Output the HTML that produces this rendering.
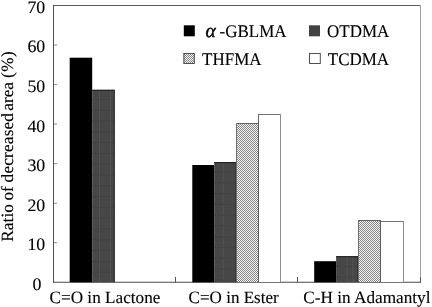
<!DOCTYPE html>
<html>
<head>
<meta charset="utf-8">
<title>Ratio of decreased area</title>
<style>
html,body{margin:0;padding:0;background:#fff;}
body{width:432px;height:307px;overflow:hidden;position:relative;}
svg{position:absolute;left:0;top:0;display:block;}
text{font-family:"Liberation Serif","Times New Roman",serif;fill:#000;stroke:#000;stroke-width:0.12px;text-rendering:geometricPrecision;}
</style>
</head>
<body>
<svg width="432" height="307" viewBox="0 0 432 307">
<defs>
<pattern id="chk" x="0" y="0" width="2" height="2" patternUnits="userSpaceOnUse">
<rect x="0" y="0" width="2" height="2" fill="#f4f4f4"/>
<rect x="0" y="0" width="1" height="1" fill="#888888"/>
<rect x="1" y="1" width="1" height="1" fill="#888888"/>
</pattern>
</defs>
<rect x="0" y="0" width="432" height="307" fill="#fff"/>

<g>
<rect x="53" y="5" width="368" height="1" fill="#5a5a5a" shape-rendering="crispEdges"/>
<rect x="420" y="5" width="1" height="277.26" fill="#a0a0a0"/>
<rect x="53" y="5" width="1" height="277.76" fill="#505050"/>
<rect x="53" y="281.76" width="368" height="1" fill="#4c4c4c"/>
<rect x="54" y="242.22" width="3" height="1" fill="#8a8a8a"/>
<rect x="54" y="202.69" width="3" height="1" fill="#8a8a8a"/>
<rect x="54" y="163.15" width="3" height="1" fill="#8a8a8a"/>
<rect x="54" y="123.61" width="3" height="1" fill="#8a8a8a"/>
<rect x="54" y="84.07" width="3" height="1" fill="#8a8a8a"/>
<rect x="54" y="44.54" width="3" height="1" fill="#8a8a8a"/>
<rect x="175" y="277" width="1" height="5.26" fill="#555"/>
<rect x="297" y="277" width="1" height="5.26" fill="#555"/>
<rect x="420" y="277" width="1" height="5.26" fill="#555"/>
</g>
<rect x="69.70" y="57.70" width="22.50" height="224.56" fill="#000"/>
<rect x="92.20" y="89.80" width="22.60" height="192.46" fill="#474747"/>
<rect x="98.90" y="90.80" width="1" height="191.46" fill="#535353"/>
<rect x="110.10" y="90.80" width="1" height="191.46" fill="#535353"/>
<line x1="92.20" x2="113.80" y1="99.40" y2="99.40" stroke="#3d3d3d" stroke-width="1" stroke-dasharray="1.4 1.4"/>
<line x1="92.20" x2="113.80" y1="110.20" y2="110.20" stroke="#3d3d3d" stroke-width="1" stroke-dasharray="1.4 1.4"/>
<line x1="92.20" x2="113.80" y1="121.00" y2="121.00" stroke="#3d3d3d" stroke-width="1" stroke-dasharray="1.4 1.4"/>
<line x1="92.20" x2="113.80" y1="131.80" y2="131.80" stroke="#3d3d3d" stroke-width="1" stroke-dasharray="1.4 1.4"/>
<line x1="92.20" x2="113.80" y1="142.60" y2="142.60" stroke="#3d3d3d" stroke-width="1" stroke-dasharray="1.4 1.4"/>
<line x1="92.20" x2="113.80" y1="153.40" y2="153.40" stroke="#3d3d3d" stroke-width="1" stroke-dasharray="1.4 1.4"/>
<line x1="92.20" x2="113.80" y1="164.20" y2="164.20" stroke="#3d3d3d" stroke-width="1" stroke-dasharray="1.4 1.4"/>
<line x1="92.20" x2="113.80" y1="175.00" y2="175.00" stroke="#3d3d3d" stroke-width="1" stroke-dasharray="1.4 1.4"/>
<line x1="92.20" x2="113.80" y1="185.80" y2="185.80" stroke="#3d3d3d" stroke-width="1" stroke-dasharray="1.4 1.4"/>
<line x1="92.20" x2="113.80" y1="196.60" y2="196.60" stroke="#3d3d3d" stroke-width="1" stroke-dasharray="1.4 1.4"/>
<line x1="92.20" x2="113.80" y1="207.40" y2="207.40" stroke="#3d3d3d" stroke-width="1" stroke-dasharray="1.4 1.4"/>
<line x1="92.20" x2="113.80" y1="218.20" y2="218.20" stroke="#3d3d3d" stroke-width="1" stroke-dasharray="1.4 1.4"/>
<line x1="92.20" x2="113.80" y1="229.00" y2="229.00" stroke="#3d3d3d" stroke-width="1" stroke-dasharray="1.4 1.4"/>
<line x1="92.20" x2="113.80" y1="239.80" y2="239.80" stroke="#3d3d3d" stroke-width="1" stroke-dasharray="1.4 1.4"/>
<line x1="92.20" x2="113.80" y1="250.60" y2="250.60" stroke="#3d3d3d" stroke-width="1" stroke-dasharray="1.4 1.4"/>
<line x1="92.20" x2="113.80" y1="261.40" y2="261.40" stroke="#3d3d3d" stroke-width="1" stroke-dasharray="1.4 1.4"/>
<line x1="92.20" x2="113.80" y1="272.20" y2="272.20" stroke="#3d3d3d" stroke-width="1" stroke-dasharray="1.4 1.4"/>
<rect x="92.20" y="89.80" width="22.60" height="1" fill="#1c1c1c"/>
<rect x="113.80" y="89.80" width="1" height="192.46" fill="#303030"/>
<rect x="192.30" y="165.00" width="21.90" height="117.26" fill="#000"/>
<rect x="214.20" y="162.10" width="22.20" height="120.16" fill="#474747"/>
<rect x="222.70" y="163.10" width="1" height="119.16" fill="#535353"/>
<line x1="214.20" x2="235.40" y1="172.00" y2="172.00" stroke="#3d3d3d" stroke-width="1" stroke-dasharray="1.4 1.4"/>
<line x1="214.20" x2="235.40" y1="182.80" y2="182.80" stroke="#3d3d3d" stroke-width="1" stroke-dasharray="1.4 1.4"/>
<line x1="214.20" x2="235.40" y1="193.60" y2="193.60" stroke="#3d3d3d" stroke-width="1" stroke-dasharray="1.4 1.4"/>
<line x1="214.20" x2="235.40" y1="204.40" y2="204.40" stroke="#3d3d3d" stroke-width="1" stroke-dasharray="1.4 1.4"/>
<line x1="214.20" x2="235.40" y1="215.20" y2="215.20" stroke="#3d3d3d" stroke-width="1" stroke-dasharray="1.4 1.4"/>
<line x1="214.20" x2="235.40" y1="226.00" y2="226.00" stroke="#3d3d3d" stroke-width="1" stroke-dasharray="1.4 1.4"/>
<line x1="214.20" x2="235.40" y1="236.80" y2="236.80" stroke="#3d3d3d" stroke-width="1" stroke-dasharray="1.4 1.4"/>
<line x1="214.20" x2="235.40" y1="247.60" y2="247.60" stroke="#3d3d3d" stroke-width="1" stroke-dasharray="1.4 1.4"/>
<line x1="214.20" x2="235.40" y1="258.40" y2="258.40" stroke="#3d3d3d" stroke-width="1" stroke-dasharray="1.4 1.4"/>
<line x1="214.20" x2="235.40" y1="269.20" y2="269.20" stroke="#3d3d3d" stroke-width="1" stroke-dasharray="1.4 1.4"/>
<line x1="214.20" x2="235.40" y1="280.00" y2="280.00" stroke="#3d3d3d" stroke-width="1" stroke-dasharray="1.4 1.4"/>
<rect x="214.20" y="162.10" width="22.20" height="1" fill="#1c1c1c"/>
<rect x="235.40" y="162.10" width="1" height="120.16" fill="#303030"/>
<g shape-rendering="crispEdges"><rect x="258" y="114" width="23" height="168.26" fill="#fff"/>
<rect x="258" y="114" width="23" height="1" fill="#747474"/>
<rect x="258" y="114" width="1" height="168.26" fill="#666"/>
<rect x="280" y="114" width="1" height="168.26" fill="#8e8e8e"/></g>
<g shape-rendering="crispEdges"><rect x="236" y="123" width="23" height="159.26" fill="url(#chk)"/>
<rect x="236" y="123" width="23" height="1" fill="#626262"/>
<rect x="236" y="123" width="1" height="159.26" fill="#707070"/>
<rect x="258" y="123" width="1" height="159.26" fill="#5c5c5c"/></g>
<rect x="314.20" y="261.20" width="21.90" height="21.06" fill="#000"/>
<rect x="336.10" y="256.20" width="22.20" height="26.06" fill="#474747"/>
<rect x="346.60" y="257.20" width="1" height="25.06" fill="#535353"/>
<rect x="352.30" y="257.20" width="1" height="25.06" fill="#535353"/>
<line x1="336.10" x2="357.30" y1="266.40" y2="266.40" stroke="#3d3d3d" stroke-width="1" stroke-dasharray="1.4 1.4"/>
<line x1="336.10" x2="357.30" y1="277.20" y2="277.20" stroke="#3d3d3d" stroke-width="1" stroke-dasharray="1.4 1.4"/>
<rect x="336.10" y="256.20" width="22.20" height="1" fill="#1c1c1c"/>
<rect x="357.30" y="256.20" width="1" height="26.06" fill="#303030"/>
<g shape-rendering="crispEdges"><rect x="380" y="221" width="24" height="61.26" fill="#fff"/>
<rect x="380" y="221" width="24" height="1" fill="#747474"/>
<rect x="380" y="221" width="1" height="61.26" fill="#666"/>
<rect x="403" y="221" width="1" height="61.26" fill="#8e8e8e"/></g>
<g shape-rendering="crispEdges"><rect x="358" y="220" width="23" height="62.26" fill="url(#chk)"/>
<rect x="358" y="220" width="23" height="1" fill="#626262"/>
<rect x="358" y="220" width="1" height="62.26" fill="#707070"/>
<rect x="380" y="220" width="1" height="62.26" fill="#5c5c5c"/></g>
<rect x="183.8" y="25.3" width="11" height="11" fill="#000"/>
<rect x="309" y="25.3" width="11" height="11" fill="#424242"/>
<rect x="183.4" y="53" width="11.4" height="11" fill="url(#chk)"/>
<rect x="183.9" y="53.5" width="10.4" height="10" fill="none" stroke="#505050" stroke-width="1"/>
<rect x="309.5" y="53.5" width="10.8" height="10" fill="#fff" stroke="#505050" stroke-width="1"/>
<text transform="translate(36.30 13.00) scale(1.0200 1)" font-size="17.5px" text-anchor="middle">70</text>
<text transform="translate(36.30 52.00) scale(1.0200 1)" font-size="17.5px" text-anchor="middle">60</text>
<text transform="translate(36.30 92.10) scale(1.0200 1)" font-size="17.5px" text-anchor="middle">50</text>
<text transform="translate(36.30 131.70) scale(1.0200 1)" font-size="17.5px" text-anchor="middle">40</text>
<text transform="translate(36.30 171.20) scale(1.0200 1)" font-size="17.5px" text-anchor="middle">30</text>
<text transform="translate(36.30 210.90) scale(1.0200 1)" font-size="17.5px" text-anchor="middle">20</text>
<text transform="translate(36.30 250.40) scale(1.0200 1)" font-size="17.5px" text-anchor="middle">10</text>
<text transform="translate(37.00 289.90) scale(1.0200 1)" font-size="17.5px" text-anchor="middle">0</text>
<text transform="translate(13.35 241.7) rotate(-90)" font-size="17.2px" xml:space="preserve"><tspan x="0" letter-spacing="0.1">Ratio </tspan><tspan x="41.13">of </tspan><tspan x="59.3" letter-spacing="0.2">decreased </tspan><tspan x="131.0">area </tspan><tspan x="163.74" letter-spacing="0.4">(%)</tspan></text>
<text transform="translate(49.50 302.80) scale(1.0000 1)" font-size="17.2px">C=O in Lactone</text>
<text transform="translate(188.60 302.80) scale(0.9920 1)" font-size="17.2px">C=O in Ester</text>
<text transform="translate(303.30 302.80) scale(1.0010 1)" font-size="17.2px">C-H in Adamantyl</text>
<text transform="translate(205.4 37.3)" font-size="19.5px" font-style="italic" style="stroke-width:0.4px">α</text>
<text transform="translate(219.60 37.20) scale(0.9550 1)" font-size="17.8px">-GBLMA</text>
<text transform="translate(327.00 37.30) scale(0.9550 1)" font-size="17.8px">OTDMA</text>
<text transform="translate(202.10 65.20) scale(0.9550 1)" font-size="17.8px">THFMA</text>
<text transform="translate(327.80 65.20) scale(0.9550 1)" font-size="17.8px">TCDMA</text>
</svg>
</body>
</html>
